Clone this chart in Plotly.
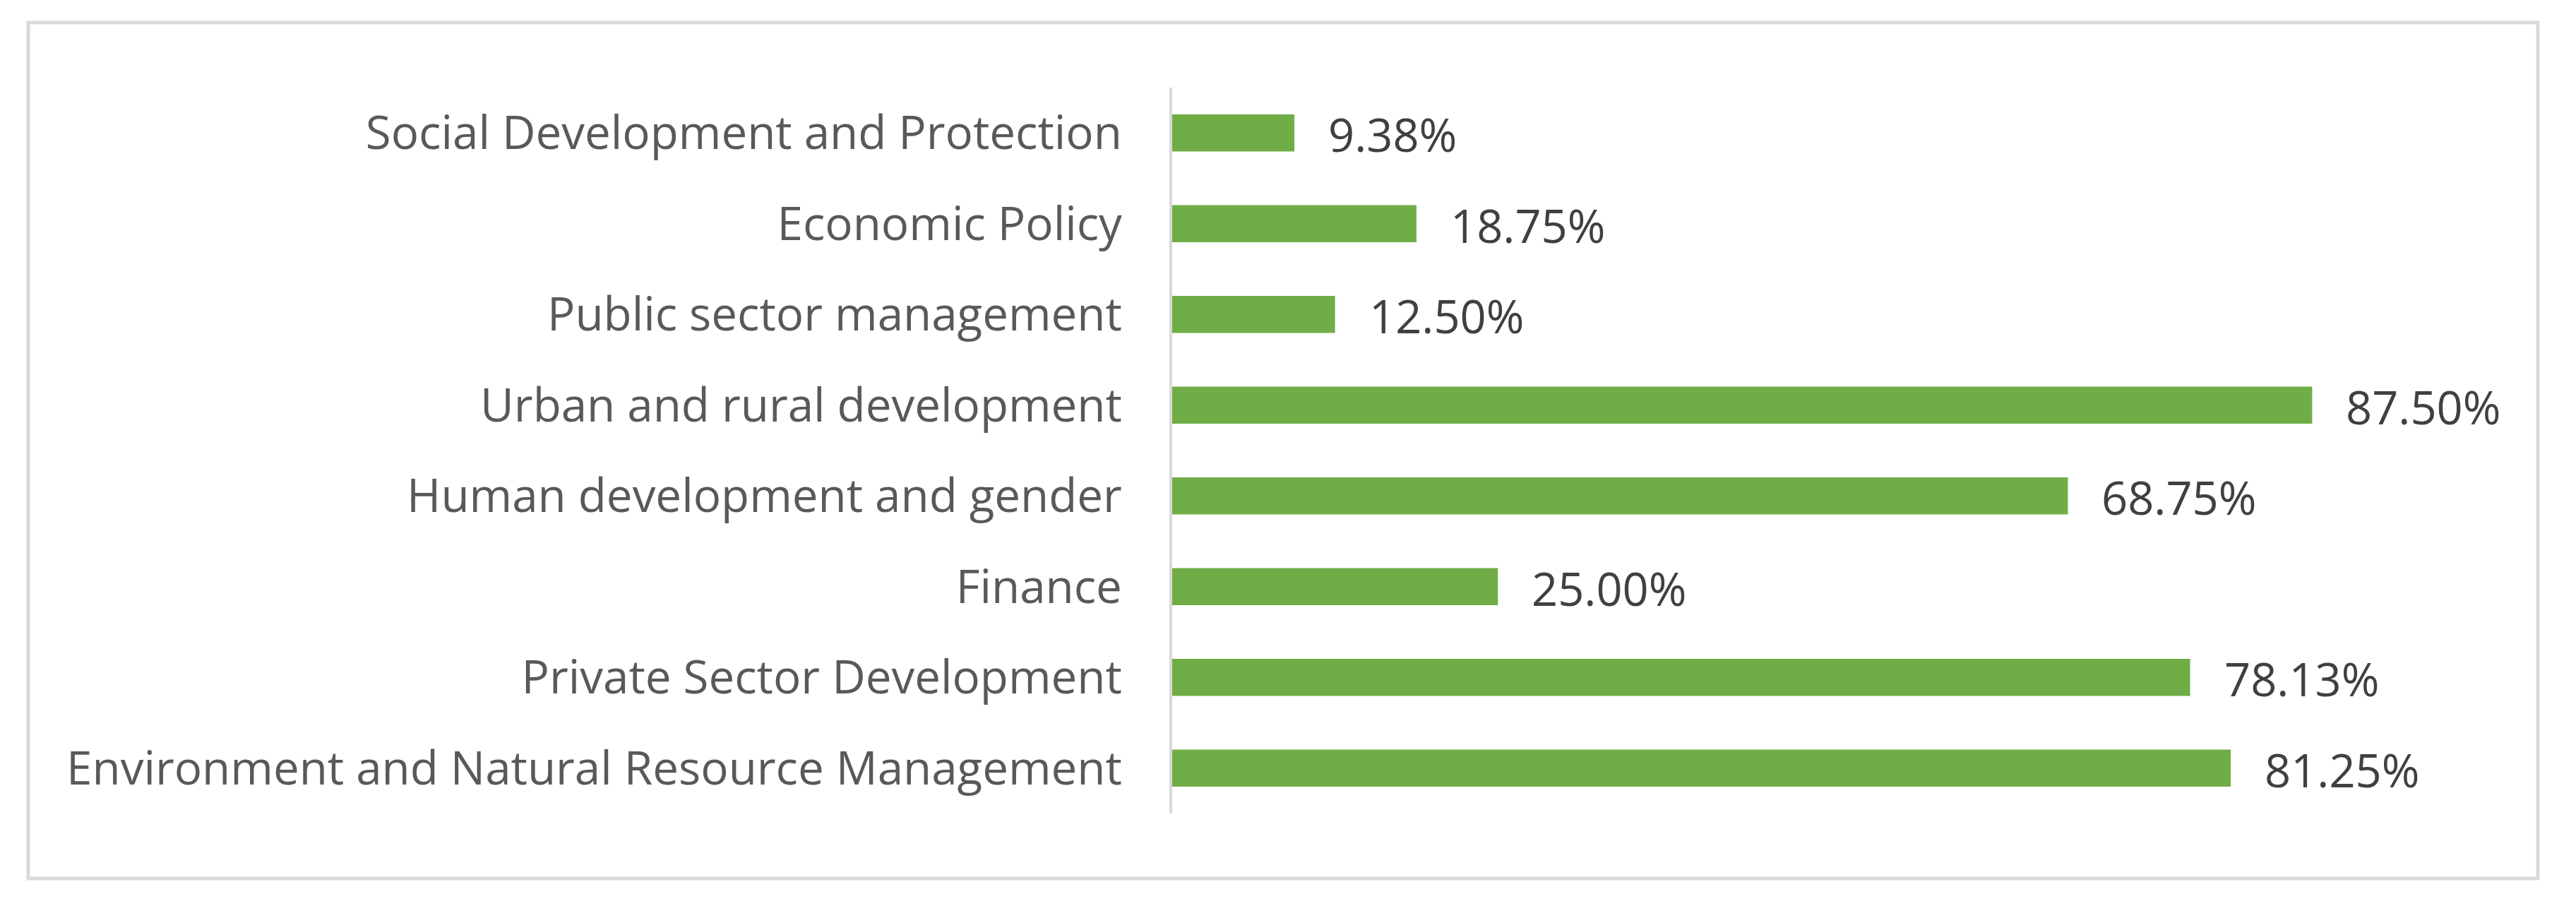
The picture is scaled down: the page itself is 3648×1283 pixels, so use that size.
import plotly.graph_objects as go

categories = [
    "Social Development and Protection",
    "Economic Policy",
    "Public sector management",
    "Urban and rural development",
    "Human development and gender",
    "Finance",
    "Private Sector Development",
    "Environment and Natural Resource Management",
]
values = [9.38, 18.75, 12.50, 87.50, 68.75, 25.00, 78.13, 81.25]
value_labels = ["9.38%", "18.75%", "12.50%", "87.50%", "68.75%", "25.00%", "78.13%", "81.25%"]

W, H = 3648, 1283
L, R, T, B = 1660, 3505, 124, 1152  # plot area pixels

fig = go.Figure()
fig.add_trace(go.Bar(
    y=categories, x=values, orientation="h",
    marker=dict(color="#70AD47", line=dict(width=0)),
    hoverinfo="skip",
))

for c, v, t in zip(categories, values, value_labels):
    fig.add_annotation(x=v, y=c, text=t, showarrow=False, xanchor="left",
                       xshift=46, yshift=-2,
                       font=dict(family="Open Sans", size=65, color="#404040"))

def px_x(p):
    return (p - L) / (R - L)

def px_y(p):
    return (B - p) / (B - T)

fig.add_shape(type="rect", xref="paper", yref="paper",
              x0=px_x(40), x1=px_x(3594), y0=px_y(1244), y1=px_y(32),
              line=dict(color="#D9D9D9", width=5), fillcolor="rgba(0,0,0,0)", layer="below")

fig.update_layout(
    width=W, height=H,
    margin=dict(l=L, r=W - R, t=T, b=H - B, pad=0),
    paper_bgcolor="white", plot_bgcolor="white",
    bargap=0.59, showlegend=False,
    font=dict(family="Open Sans", size=65, color="#595959"),
)
fig.update_xaxes(range=[0, 100], visible=False, showgrid=False, zeroline=False)
fig.update_yaxes(autorange="reversed", showline=True, linecolor="#D9D9D9", linewidth=4,
                 showgrid=False, ticks="", ticklabelstandoff=54,
                 tickfont=dict(family="Open Sans", size=65.5, color="#595959"))

fig.write_html("out.html", config={"displayModeBar": False},
               post_script="document.body.style.margin='0px';")
